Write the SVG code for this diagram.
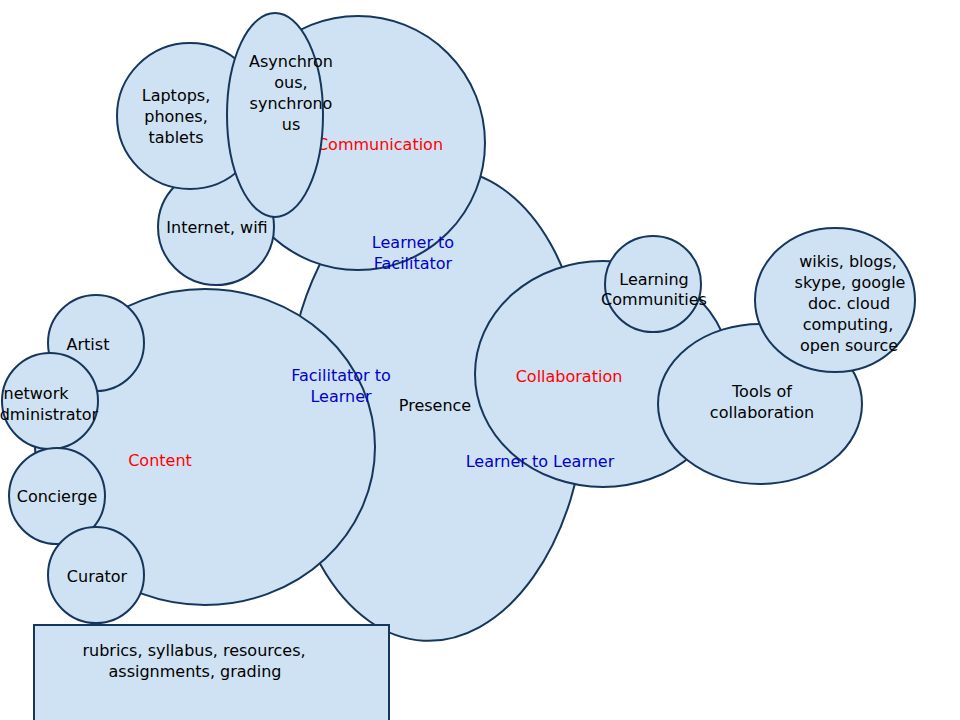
<svg xmlns="http://www.w3.org/2000/svg" width="960" height="720" viewBox="0 0 960 720">
<style>
.n{fill:#cfe2f3;stroke:#16365c;stroke-width:2}
text{font-family:"DejaVu Sans","Liberation Sans",sans-serif;font-size:16px;text-anchor:middle;fill:#000}
.r{fill:#ff0000}.b{fill:#0000cc}
</style>
<rect width="960" height="720" fill="#fff"/>
<g id="presence"><ellipse class="n" cx="436" cy="405" rx="150" ry="236" transform="rotate(3 436 405)"/><text x="435" y="411">Presence</text></g>
<g id="communication"><circle class="n" cx="358" cy="143" r="127"/><text class="r" x="380" y="150">Communication</text></g>
<g id="content"><ellipse class="n" cx="205" cy="447" rx="170" ry="158"/><text class="r" x="160" y="466">Content</text></g>
<g id="collaboration"><ellipse class="n" cx="603" cy="374" rx="128" ry="113"/><text class="r" x="569" y="382">Collaboration</text></g>
<g id="tools"><ellipse class="n" cx="760" cy="404" rx="102" ry="80"/><text x="762" y="397">Tools of</text><text x="762" y="418">collaboration</text></g>
<g id="wikis"><ellipse class="n" cx="835" cy="300" rx="80" ry="72"/><text x="848" y="267">wikis, blogs,</text><text x="850" y="288">skype, google</text><text x="849" y="309">doc. cloud</text><text x="848" y="330">computing,</text><text x="849" y="351">open source</text></g>
<g id="learning-communities"><circle class="n" cx="653" cy="284" r="48"/><text x="654" y="285">Learning</text><text x="654" y="305">Communities</text></g>
<g id="internet"><circle class="n" cx="216" cy="227" r="58"/><text x="217" y="233">Internet, wifi</text></g>
<g id="laptops"><circle class="n" cx="190" cy="116" r="73"/><text x="176" y="101">Laptops,</text><text x="176" y="122">phones,</text><text x="176" y="143">tablets</text></g>
<g id="asynchronous"><ellipse class="n" cx="275" cy="115" rx="48" ry="102"/><text x="291" y="67">Asynchron</text><text x="291" y="88">ous,</text><text x="291" y="109">synchrono</text><text x="291" y="130">us</text></g>
<g id="artist"><circle class="n" cx="96" cy="343" r="48"/><text x="88" y="350">Artist</text></g>
<g id="network"><circle class="n" cx="50" cy="401" r="48"/><text x="36" y="399">network</text><text x="44" y="420">administrator</text></g>
<g id="concierge"><circle class="n" cx="57" cy="496" r="48"/><text x="57" y="502">Concierge</text></g>
<g id="curator"><circle class="n" cx="96" cy="575" r="48"/><text x="97" y="582">Curator</text></g>
<g id="rubrics"><rect class="n" x="34" y="625" width="355" height="100"/><text x="194" y="656">rubrics, syllabus, resources,</text><text x="195" y="677">assignments, grading</text></g>
<g id="connectors">
<text class="b" x="413" y="248">Learner to</text><text class="b" x="413" y="269">Facilitator</text>
<text class="b" x="341" y="381">Facilitator to</text><text class="b" x="341" y="402">Learner</text>
<text class="b" x="540" y="467">Learner to Learner</text>
</g>
</svg>
